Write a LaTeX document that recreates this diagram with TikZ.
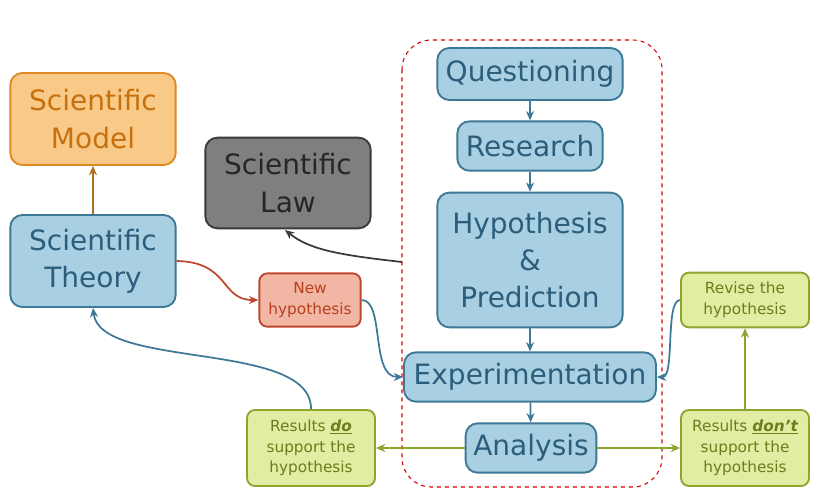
\documentclass[tikz,border=0pt]{standalone}
\usepackage{fontspec}
\setmainfont{DejaVu Sans}
\usetikzlibrary{arrows.meta}
\definecolor{bfill}{HTML}{A9CFE2}\definecolor{bdraw}{HTML}{3D7896}\definecolor{btext}{HTML}{2A5E7C}
\definecolor{ofill}{HTML}{F8C987}\definecolor{odraw}{HTML}{DD8A22}\definecolor{otext}{HTML}{C7700E}
\definecolor{gfill}{HTML}{7F7F7F}\definecolor{gdraw}{HTML}{3A3A3A}\definecolor{gtext}{HTML}{262626}
\definecolor{rfill}{HTML}{F1B6A4}\definecolor{rdraw}{HTML}{C0462D}\definecolor{rtext}{HTML}{B8401F}
\definecolor{lfill}{HTML}{E3ECA3}\definecolor{ldraw}{HTML}{8CA52C}\definecolor{ltext}{HTML}{6C7E1C}
\begin{document}
\begin{tikzpicture}[x=0.75pt,y=-0.75pt,
 box/.style={rounded corners=9pt,line width=1.4pt,align=center,inner sep=0pt},
 big/.style={font=\fontsize{21}{28}\selectfont},
 blue/.style={box,big,fill=bfill,draw=bdraw,text=btext},
 small/.style={box,rounded corners=6pt,font=\fontsize{11.5}{15.5}\selectfont},
 arr/.style={-{Stealth[length=7pt,width=6pt]},line width=1.3pt}]
\useasboundingbox (0,0) rectangle (820,500);
\node[blue,minimum width=139pt,minimum height=39pt] (q) at (530,74) {Questioning};
\node[blue,minimum width=109pt,minimum height=37pt] (r) at (530,146) {Research};
\node[blue,minimum width=139pt,minimum height=101pt] (h) at (530,260) {Hypothesis\\\&\\Prediction};
\node[blue,minimum width=189pt,minimum height=37pt] (e) at (530,377) {Experimentation};
\node[blue,minimum width=98pt,minimum height=37pt] (a) at (531,448) {Analysis};
\node[blue,minimum width=124pt,minimum height=69pt] (t) at (93,261) {Scientific\\Theory};
\node[box,big,fill=ofill,draw=odraw,text=otext,minimum width=124pt,minimum height=69pt] (m) at (93,119) {Scientific\\Model};
\node[box,big,fill=gfill,draw=gdraw,text=gtext,minimum width=124pt,minimum height=68pt] (l) at (288,183) {Scientific\\Law};
\node[small,fill=rfill,draw=rdraw,text=rtext,minimum width=76pt,minimum height=40pt] (n) at (310,300) {New\\hypothesis};
\node[small,fill=lfill,draw=ldraw,text=ltext,minimum width=96pt,minimum height=41pt] (v) at (745,300) {Revise the\\hypothesis};
\node[small,fill=lfill,draw=ldraw,text=ltext,minimum width=96pt,minimum height=57pt] (d) at (311,448) {Results \textbf{\textit{\underline{do}}}\\support the\\hypothesis};
\node[small,fill=lfill,draw=ldraw,text=ltext,minimum width=96pt,minimum height=57pt] (x) at (745,448) {Results \textbf{\textit{\underline{don't}}}\\support the\\hypothesis};
\draw[red!85!black,dashed,rounded corners=22pt,line width=0.8pt] (402,40) rectangle (662,487);
\coordinate (ls) at (402,262);
\draw[arr,bdraw] (q) -- (r);
\draw[arr,bdraw] (r) -- (h);
\draw[arr,bdraw] (h) -- (e);
\draw[arr,bdraw] (e) -- (a);
\draw[arr,odraw!80!black] (t) -- (m);
\draw[arr,gdraw] (ls) .. controls (340,255) and (310,250) .. (285,230);
\draw[arr,rdraw] (t.east) .. controls (230,262) and (220,300) .. (n.west);
\draw[arr,bdraw] (n.east) .. controls (385,300) and (370,377) .. (e.west);
\draw[arr,bdraw] (v.west) .. controls (665,300) and (675,377) .. (e.east);
\draw[arr,bdraw] (d.north) .. controls (312,340) and (100,370) .. (t.south);
\draw[arr,ldraw] (x.north) -- (v.south);
\draw[arr,ldraw] (a.west) -- (d.east);
\draw[arr,ldraw] (a.east) -- (x.west);
\end{tikzpicture}
\end{document}
